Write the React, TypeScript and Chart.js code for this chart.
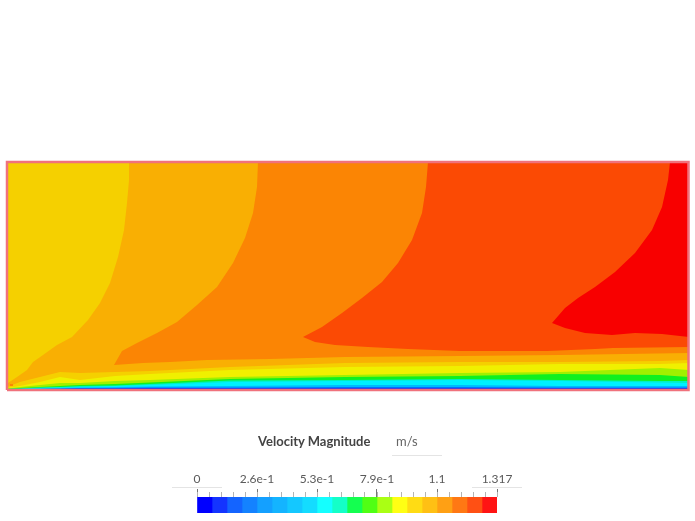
import React, { useEffect, useRef } from 'react';
import { Chart, registerables } from 'chart.js';

Chart.register(...registerables);

// axis range, a touch wider than the flow so the wall line sits outside it
const channelXMin = 0;
const channelXMax = 6.815;
const channelYMin = -0.01;
const channelYMax = 2.27;

const channelX = [0, 6.815, 6.815, 0, 0];
const channelY = [-0.01, -0.01, 2.27, 2.27, -0.01];

// contours that sweep up from the lower wall
const amberX = [1.22, 1.22, 1.2, 1.17, 1.11, 1.03, 0.93, 0.81, 0.65, 0.5, 0.36, 0.26, 0.2, 0.1, 0.01, 0, 6.82, 6.82];
const amberY = [2.27, 2.09, 1.86, 1.59, 1.32, 1.06, 0.86, 0.69, 0.52, 0.44, 0.34, 0.27, 0.19, 0.12, 0.06, 0, 0, 2.27];
const orangeX = [2.51, 2.5, 2.46, 2.38, 2.26, 2.1, 1.9, 1.7, 1.5, 1.3, 1.15, 1.07, 1.07, 6.82, 6.82];
const orangeY = [2.27, 2.02, 1.76, 1.51, 1.26, 1.02, 0.84, 0.67, 0.56, 0.46, 0.38, 0.24, 0.09, 0.09, 2.27];
const darkOrangeX = [4.21, 4.19, 4.15, 4.05, 3.91, 3.75, 3.55, 3.35, 3.15, 2.96, 2.96, 6.82, 6.82];
const darkOrangeY = [2.27, 2.02, 1.76, 1.49, 1.26, 1.07, 0.91, 0.76, 0.62, 0.52, 0.09, 0.09, 2.27];
const redX = [6.63, 6.61, 6.55, 6.45, 6.28, 6.08, 5.88, 5.71, 5.58, 5.45, 5.58, 5.78, 6.05, 6.28, 6.55, 6.82, 6.82];
const redY = [2.27, 2.09, 1.82, 1.59, 1.36, 1.17, 1.02, 0.91, 0.81, 0.66, 0.61, 0.56, 0.54, 0.56, 0.55, 0.52, 2.27];

// boundary layer bands along the lower wall, top edge of each
const orangeBandX = [2.96, 3.08, 3.28, 3.61, 4.01, 4.53, 5.4, 5.88, 6.06, 6.82];
const orangeBandY = [0.52, 0.47, 0.44, 0.42, 0.4, 0.38, 0.38, 0.4, 0.41, 0.42];
const amberBandX = [1.07, 1.36, 1.63, 2.0, 2.63, 3.38, 4.53, 5.53, 6.82];
const amberBandY = [0.24, 0.26, 0.27, 0.29, 0.3, 0.32, 0.33, 0.34, 0.36];

const wallX = [0, 0.13, 0.33, 0.53, 0.73, 1.08, 1.43, 2.23, 3.38, 4.53, 5.53, 6.53, 6.82];
const goldBand = [0.02, 0.07, 0.12, 0.17, 0.16, 0.17, 0.18, 0.22, 0.26, 0.27, 0.27, 0.28, 0.29];
const yellowBand = [0.01, 0.03, 0.07, 0.12, 0.09, 0.13, 0.15, 0.19, 0.22, 0.23, 0.25, 0.25, 0.26];
const limeBand = [0.005, 0.02, 0.04, 0.06, 0.06, 0.08, 0.09, 0.12, 0.14, 0.16, 0.17, 0.21, 0.19];
const greenBand = [0, 0.01, 0.02, 0.03, 0.04, 0.05, 0.065, 0.1, 0.12, 0.13, 0.15, 0.14, 0.12];
const tealBand = [0, 0.005, 0.015, 0.02, 0.03, 0.035, 0.05, 0.085, 0.09, 0.1, 0.09, 0.08, 0.08];
const cyanBand = [0, 0, 0.01, 0.015, 0.02, 0.03, 0.04, 0.07, 0.08, 0.09, 0.08, 0.065, 0.06];
const skyBand = [0, 0, 0.005, 0.01, 0.015, 0.02, 0.025, 0.03, 0.04, 0.04, 0.03, 0.03, 0.03];
const blueBand = [0, 0, 0, 0.005, 0.01, 0.01, 0.015, 0.015, 0.02, 0.02, 0.015, 0.015, 0.015];
const deepBlueBand = [0, 0, 0, 0, 0.005, 0.005, 0.01, 0.01, 0.01, 0.01, 0.01, 0.01, 0.01];

// small hot spot right at the leading edge
const leadingSpotX = [0.03, 0.06, 0.06, 0.03];
const leadingSpotY = [0.05, 0.05, 0.03, 0.03];

// colour bar
const legendMax = 1.317;
const legendMajorStep = 0.2634;
const legendMinorStep = 0.05268;
const legendTickLabels = ['0', '2.6e-1', '5.3e-1', '7.9e-1', '1.1', '1.317'];
const legendColors = [
  '#0000ff', '#1434ff', '#1464ff', '#1482ff', '#14a0ff',
  '#14b4ff', '#14c8ff', '#14dcff', '#14ffff', '#14ffc8',
  '#14ff50', '#50ff14', '#aaff14', '#ffff14', '#ffdc14',
  '#ffc014', '#ffa014', '#ff7814', '#ff5014', '#ff1414',
];

const pts = (xs: number[], ys: number[]) => xs.map((x, i) => ({ x, y: ys[i] }));

const region = (xs: number[], ys: number[], color: string) => ({
  data: pts(xs, ys),
  showLine: true,
  fill: 'shape',
  backgroundColor: color,
  borderWidth: 0,
  pointRadius: 0,
});

const band = (xs: number[], ys: number[], color: string) => ({
  data: pts(xs, ys),
  showLine: true,
  fill: 'start',
  backgroundColor: color,
  borderWidth: 0,
  pointRadius: 0,
});

function ContourChart() {
  const canvasRef = useRef<HTMLCanvasElement>(null);

  useEffect(() => {
    if (!canvasRef.current) return;
    // listed back to front, chart.js paints the first dataset last
    const layers: any[] = [
      region(channelX, channelY, '#f5d000'),
      region(amberX, amberY, '#f9af03'),
      region(orangeX, orangeY, '#fb8504'),
      region(darkOrangeX, darkOrangeY, '#fb4a04'),
      region(redX, redY, '#f80000'),
      band(orangeBandX, orangeBandY, '#fb8504'),
      band(amberBandX, amberBandY, '#f9af03'),
      band(wallX, goldBand, '#f5d000'),
      band(wallX, yellowBand, '#f0f000'),
      band(wallX, limeBand, '#a0f000'),
      band(wallX, greenBand, '#10f020'),
      band(wallX, tealBand, '#00f0c0'),
      band(wallX, cyanBand, '#00f0ff'),
      band(wallX, skyBand, '#00b8ff'),
      band(wallX, blueBand, '#0070ff'),
      band(wallX, deepBlueBand, '#1a30f0'),
      region(leadingSpotX, leadingSpotY, '#fb8504'),
      {
        data: pts(channelX, channelY),
        showLine: true,
        fill: false,
        borderColor: '#f0727c',
        borderWidth: 2.5,
        pointRadius: 0,
        clip: false,
      },
    ];
    const chart = new Chart(canvasRef.current, {
      type: 'scatter',
      data: { datasets: layers.reverse() },
      options: {
        animation: false,
        responsive: false,
        events: [],
        layout: { padding: { left: 7, right: 6.5, top: 162, bottom: 131 } },
        plugins: { legend: { display: false }, tooltip: { enabled: false } },
        scales: {
          x: { type: 'linear', min: channelXMin, max: channelXMax, display: false },
          y: { type: 'linear', min: channelYMin, max: channelYMax, display: false },
        },
      },
    });
    return () => chart.destroy();
  }, []);

  return <canvas ref={canvasRef} width={695} height={521} style={{ position: 'absolute', left: 0, top: 0 }} />;
}

function ColorBar() {
  const canvasRef = useRef<HTMLCanvasElement>(null);

  useEffect(() => {
    if (!canvasRef.current) return;
    const binWidth = legendMax / legendColors.length;
    const chart = new Chart(canvasRef.current, {
      type: 'bar',
      data: {
        labels: ['Velocity Magnitude'],
        datasets: legendColors.map((color) => ({
          data: [binWidth],
          backgroundColor: color,
          borderWidth: 0,
          barPercentage: 1,
          categoryPercentage: 1,
        })),
      },
      options: {
        indexAxis: 'y',
        animation: false,
        responsive: false,
        events: [],
        layout: { padding: { left: 50, right: 50, top: 0, bottom: 8 } },
        plugins: { legend: { display: false }, tooltip: { enabled: false } },
        scales: {
          y: { stacked: true, display: false },
          x: {
            type: 'linear',
            position: 'top',
            weight: 1,
            stacked: true,
            min: 0,
            max: legendMax,
            border: { display: false },
            grid: { drawOnChartArea: false, tickLength: 8, tickColor: '#777777', tickWidth: 1 },
            ticks: {
              stepSize: legendMajorStep,
              autoSkip: false,
              maxRotation: 0,
              padding: 3,
              color: '#5a5a5a',
              font: { family: 'Lato', size: 12 },
              callback: (_v: any, i: number) => legendTickLabels[i],
            },
            afterFit: (axis: any) => {
              axis.height = 32;
            },
          },
          // short ticks between the labelled ones, no height of its own
          minor: {
            type: 'linear',
            axis: 'x',
            position: 'top',
            weight: 0,
            min: 0,
            max: legendMax,
            border: { display: false },
            grid: { drawOnChartArea: false, tickLength: 5, tickColor: '#b4b4b4', tickWidth: 1 },
            ticks: { stepSize: legendMinorStep, autoSkip: false, maxRotation: 0, display: false },
            afterFit: (axis: any) => {
              axis.height = 0;
            },
          },
        },
      },
    });
    return () => chart.destroy();
  }, []);

  return <canvas ref={canvasRef} width={400} height={56} style={{ position: 'absolute', left: 147, top: 465 }} />;
}

const rule = (left: number, top: number, width: number) => (
  <div style={{ position: 'absolute', left, top, width, height: 1, background: '#e4e4e4' }} />
);

export default function App() {
  return (
    <div style={{ position: 'absolute', left: 0, top: 0, width: 695, height: 521, background: '#fff', fontFamily: 'Lato' }}>
      <ContourChart />
      <ColorBar />
      <div style={{ position: 'absolute', left: 258, top: 433, fontSize: 13, fontWeight: 700, color: '#444', whiteSpace: 'nowrap' }}>
        Velocity Magnitude
      </div>
      <div style={{ position: 'absolute', left: 396, top: 433, fontSize: 13, color: '#666' }}>m/s</div>
      {rule(392, 455, 50)}
      {rule(172, 487, 50)}
      {rule(472, 487, 50)}
    </div>
  );
}
